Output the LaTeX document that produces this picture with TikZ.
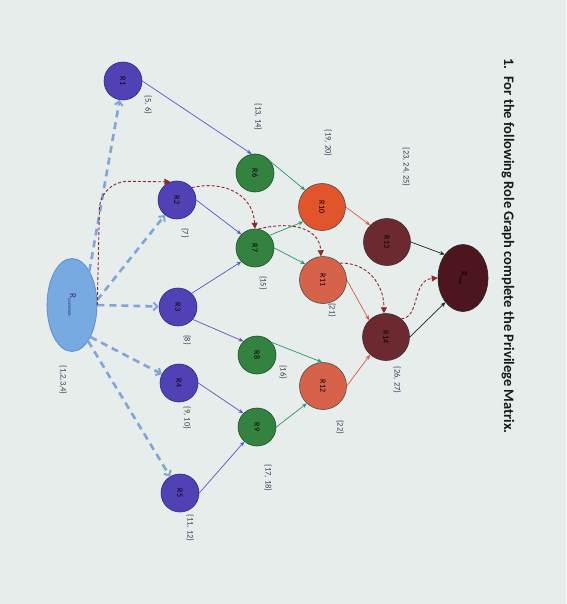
\documentclass[tikz,border=0pt]{standalone}
\usepackage{fontspec}
\setmainfont{Carlito}
\usepackage{graphicx}
\usetikzlibrary{arrows.meta,shapes.geometric}
\definecolor{bg}{RGB}{230,237,235}
\definecolor{cblue}{RGB}{80,66,180}
\definecolor{cblueb}{RGB}{50,40,130}
\definecolor{cgreen}{RGB}{52,130,64}
\definecolor{cgreenb}{RGB}{30,80,40}
\definecolor{cten}{RGB}{226,84,44}
\definecolor{cred}{RGB}{214,98,74}
\definecolor{cbrown}{RGB}{108,42,48}
\definecolor{cmax}{RGB}{76,22,28}
\definecolor{ccommon}{RGB}{120,170,226}
\definecolor{ccommonb}{RGB}{80,130,200}
\definecolor{eblue}{RGB}{92,84,196}
\definecolor{egreen}{RGB}{38,150,112}
\definecolor{ered}{RGB}{222,86,66}
\definecolor{edark}{RGB}{25,35,50}
\definecolor{edash}{RGB}{140,42,42}
\definecolor{elight}{RGB}{128,165,215}
\definecolor{ltext}{RGB}{60,62,85}
\begin{document}
\begin{tikzpicture}[x=1pt,y=-1pt,
  rnode/.style={circle,line width=0.6pt,inner sep=0pt,text=black,font=\fontsize{8}{9}\selectfont},
  bluen/.style={rnode,fill=cblue,draw=cblueb,minimum size=38pt},
  greenn/.style={rnode,fill=cgreen,draw=cgreenb,minimum size=38pt},
  tenn/.style={rnode,fill=cten,draw=black!70,minimum size=47pt},
  redn/.style={rnode,fill=cred,draw=black!70,minimum size=47pt},
  brownn/.style={rnode,fill=cbrown,draw=black!80,minimum size=47pt},
  lbl/.style={rotate=-90,text=ltext,inner sep=0pt,font=\fontsize{8.5}{9}\selectfont},
  eb/.style={draw=eblue,line width=0.7pt,-{Stealth[length=5pt,width=4pt]}},
  eg/.style={draw=egreen,line width=0.7pt,-{Stealth[length=5pt,width=4pt]}},
  er/.style={draw=ered,line width=0.7pt,-{Stealth[length=5pt,width=4pt]}},
  ed/.style={draw=edark,line width=0.7pt,-{Stealth[length=5pt,width=4pt]}},
  ldash/.style={draw=elight,line width=2.6pt,dash pattern=on 7pt off 5pt,-{Straight Barb[length=4pt,width=8pt,line width=2pt]}},
  rdash/.style={draw=edash,line width=0.9pt,dash pattern=on 3pt off 2pt,-{Triangle[length=6pt,width=6pt]}}
]
\useasboundingbox (0,0) rectangle (566,604);
\fill[bg] (0,0) rectangle (566,604);

% title
\node[rotate=-90,anchor=west,inner sep=0pt,font=\fontsize{14.5}{16}\selectfont\bfseries,text=black!90] (title) at (508,58)
  {1.\hspace{7pt}For the following Role Graph complete the Privilege Matrix.};

% nodes
\node[ellipse,fill=ccommon,draw=ccommonb,line width=0.6pt,minimum width=50pt,minimum height=93pt,inner sep=0pt,text=cblueb] (rc) at (72,305)
  {\rotatebox{-90}{\fontsize{9}{10}\selectfont R\raisebox{-2pt}{\fontsize{5}{6}\selectfont common}}};
\node[bluen] (R1) at (123,81) {\rotatebox{-90}{R1}};
\node[bluen] (R2) at (177,200) {\rotatebox{-90}{R2}};
\node[bluen] (R3) at (178,307) {\rotatebox{-90}{R3}};
\node[bluen] (R4) at (179,383) {\rotatebox{-90}{R4}};
\node[bluen] (R5) at (180,493) {\rotatebox{-90}{R5}};
\node[greenn] (R6) at (255,173) {\rotatebox{-90}{R6}};
\node[greenn] (R7) at (255,248) {\rotatebox{-90}{R7}};
\node[greenn] (R8) at (257,355) {\rotatebox{-90}{R8}};
\node[greenn] (R9) at (257,427) {\rotatebox{-90}{R9}};
\node[tenn] (R10) at (322,207) {\rotatebox{-90}{R10}};
\node[redn] (R11) at (323,280) {\rotatebox{-90}{R11}};
\node[redn] (R12) at (323,386) {\rotatebox{-90}{R12}};
\node[brownn] (R13) at (387,242) {\rotatebox{-90}{R13}};
\node[brownn] (R14) at (386,337) {\rotatebox{-90}{R14}};
\node[ellipse,fill=cmax,draw=black!85,line width=0.6pt,minimum width=50pt,minimum height=67pt,inner sep=0pt,text=black] (Rmax) at (463,278)
  {\rotatebox{-90}{\fontsize{9}{10}\selectfont R\raisebox{-2pt}{\fontsize{5}{6}\selectfont max}}};

% labels
\node[lbl] (l1234) at (63,380) {\{1,2,3,4\}};
\node[lbl] (l56) at (148,105) {\{5, 6\}};
\node[lbl] (l7) at (185,233) {\{7\}};
\node[lbl] (l8) at (187,340) {\{8\}};
\node[lbl] (l910) at (187,418) {\{9, 10\}};
\node[lbl] (l1112) at (190,528) {\{11, 12\}};
\node[lbl] (l1314) at (258,117) {\{13, 14\}};
\node[lbl] (l15) at (263,283) {\{15\}};
\node[lbl] (l16) at (283,372) {\{16\}};
\node[lbl] (l1718) at (268,478) {\{17, 18\}};
\node[lbl] (l1920) at (328,143) {\{19, 20\}};
\node[lbl] (l21) at (332,310) {\{21\}};
\node[lbl] (l22) at (340,427) {\{22\}};
\node[lbl] (l232425) at (406,167) {\{23, 24, 25\}};
\node[lbl] (l2627) at (397,380) {\{26, 27\}};

% light blue dashed arrows from Rcommon
\draw[ldash] (rc.63) -- (R1);
\draw[ldash] (rc.11) -- (R2);
\draw[ldash] (rc.east) -- (R3);
\draw[ldash] (rc.-60) -- (R4);
\draw[ldash] (rc.-66) -- (R5);

% solid edges
\draw[eb] (R1.east) -- (R6.100);
\draw[eb] (R2.east) -- (R7.135);
\draw[eb] (R3.45) -- (R7.225);
\draw[eb] (R3.-40) -- (R8.135);
\draw[eb] (R4.east) -- (R9.135);
\draw[eb] (R5.east) -- (R9.229);
\draw[eg] (R6.36) -- (R10.135);
\draw[eg] (R7.41) -- (R10.218);
\draw[eg] (R7.east) -- (R11.138);
\draw[eg] (R8.41) -- (R12.92);
\draw[eg] (R9.east) -- (R12.227);
\draw[er] (R10.east) -- (R13.135);
\draw[er] (R11.east) -- (R14.135);
\draw[er] (R12.east) -- (R14.228);
\draw[ed] (R13.east) -- (Rmax.128);
\draw[ed] (R14.east) -- (Rmax.234);

% dashed red chain
\draw[rdash,rounded corners=28pt] (rc.east) -- (100,181) -- (R2.110);
\draw[rdash] (R2.40) .. controls (225,180) and (253,195) .. (R7.north);
\draw[rdash] (R7.80) .. controls (295,220) and (320,230) .. (R11.95);
\draw[rdash] (R11.45) .. controls (368,262) and (384,285) .. (R14.95);
\draw[rdash] (R14.50) .. controls (420,318) and (412,280) .. (Rmax.west);
\end{tikzpicture}
\end{document}
